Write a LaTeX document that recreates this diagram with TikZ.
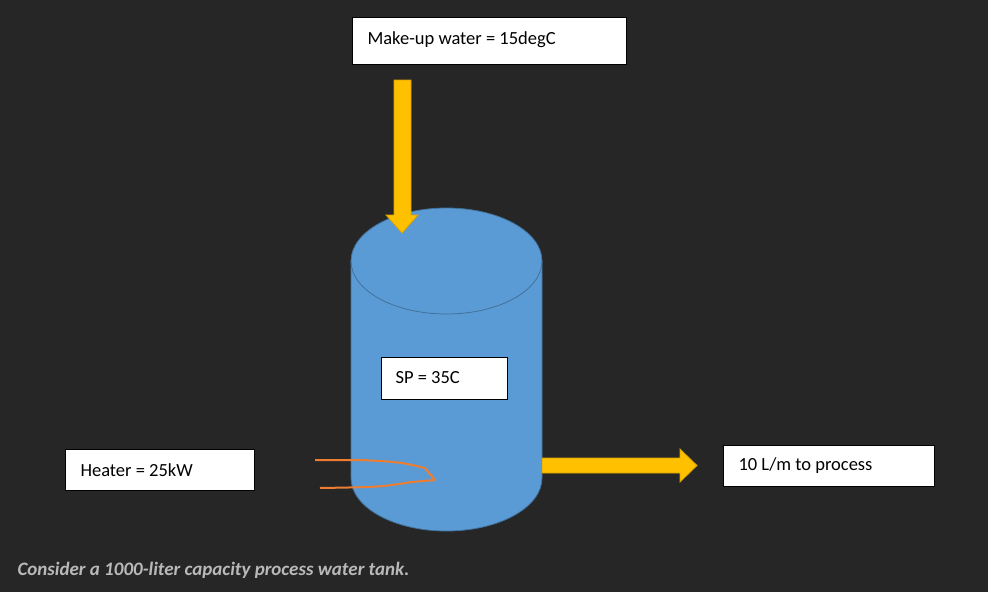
\documentclass[tikz,border=0pt]{standalone}
\usepackage{fontspec}
\setmainfont{Carlito}
\begin{document}
\begin{tikzpicture}[x=1pt,y=-1pt,
  box/.style={draw=black,fill=white,line width=1pt,anchor=north west,inner sep=0pt},
  lbl/.style={font=\fontsize{18.5}{20}\selectfont,anchor=west}]
\definecolor{bg}{HTML}{262626}
\definecolor{tank}{HTML}{5B9BD5}
\definecolor{tankline}{HTML}{41719C}
\definecolor{wire}{HTML}{ED7D31}
\definecolor{arrf}{HTML}{FFC000}
\definecolor{arrd}{HTML}{D9A300}
\fill[bg] (0,0) rectangle (988,592);
\useasboundingbox (0,0) rectangle (988,592);
% tank
\fill[tank,draw=tankline,line width=0.8pt] (351,261) -- (351,478) arc[start angle=180,end angle=0,x radius=95.5,y radius=53] -- (542,261) arc[start angle=0,end angle=-180,x radius=95.5,y radius=53] -- cycle;
\draw[tankline,line width=0.8pt] (351,261) arc[start angle=180,end angle=0,x radius=95.5,y radius=53];
% heater wire
\draw[wire,line width=2pt,line join=round] (315,460) -- (360,460) .. controls (400,462) .. (425,468) -- (435,480) -- (412,482) .. controls (380,487) .. (320,488);
% arrows
\fill[arrf,draw=arrd,line width=0.8pt] (394,80) -- (411,80) -- (411,215) -- (418,215) -- (402,233) -- (386,215) -- (394,215) -- cycle;
\fill[arrf,draw=arrd,line width=0.8pt] (542,458) -- (680,458) -- (680,449) -- (697,465.5) -- (680,482) -- (680,473) -- (542,473) -- cycle;
% boxes
\node[box,minimum width=274pt,minimum height=47pt] (mk) at (352,17) {};
\node[lbl] at (364,40) {Make-up water = 15degC};
\node[box,minimum width=126pt,minimum height=42pt] (sp) at (381,357) {};
\node[lbl] at (392,378) {SP = 35C};
\node[box,minimum width=189pt,minimum height=41pt] (ht) at (65,449) {};
\node[lbl] at (77,470) {Heater = 25kW};
\node[box,minimum width=211pt,minimum height=41pt] (out) at (723,445) {};
\node[lbl] at (735,466) {10 L/m to process};
\node[anchor=west,text=gray!55,font=\fontsize{19}{21}\selectfont\bfseries\itshape] (cap) at (14,570) {Consider a 1000-liter capacity process water tank.};
\end{tikzpicture}
\end{document}
